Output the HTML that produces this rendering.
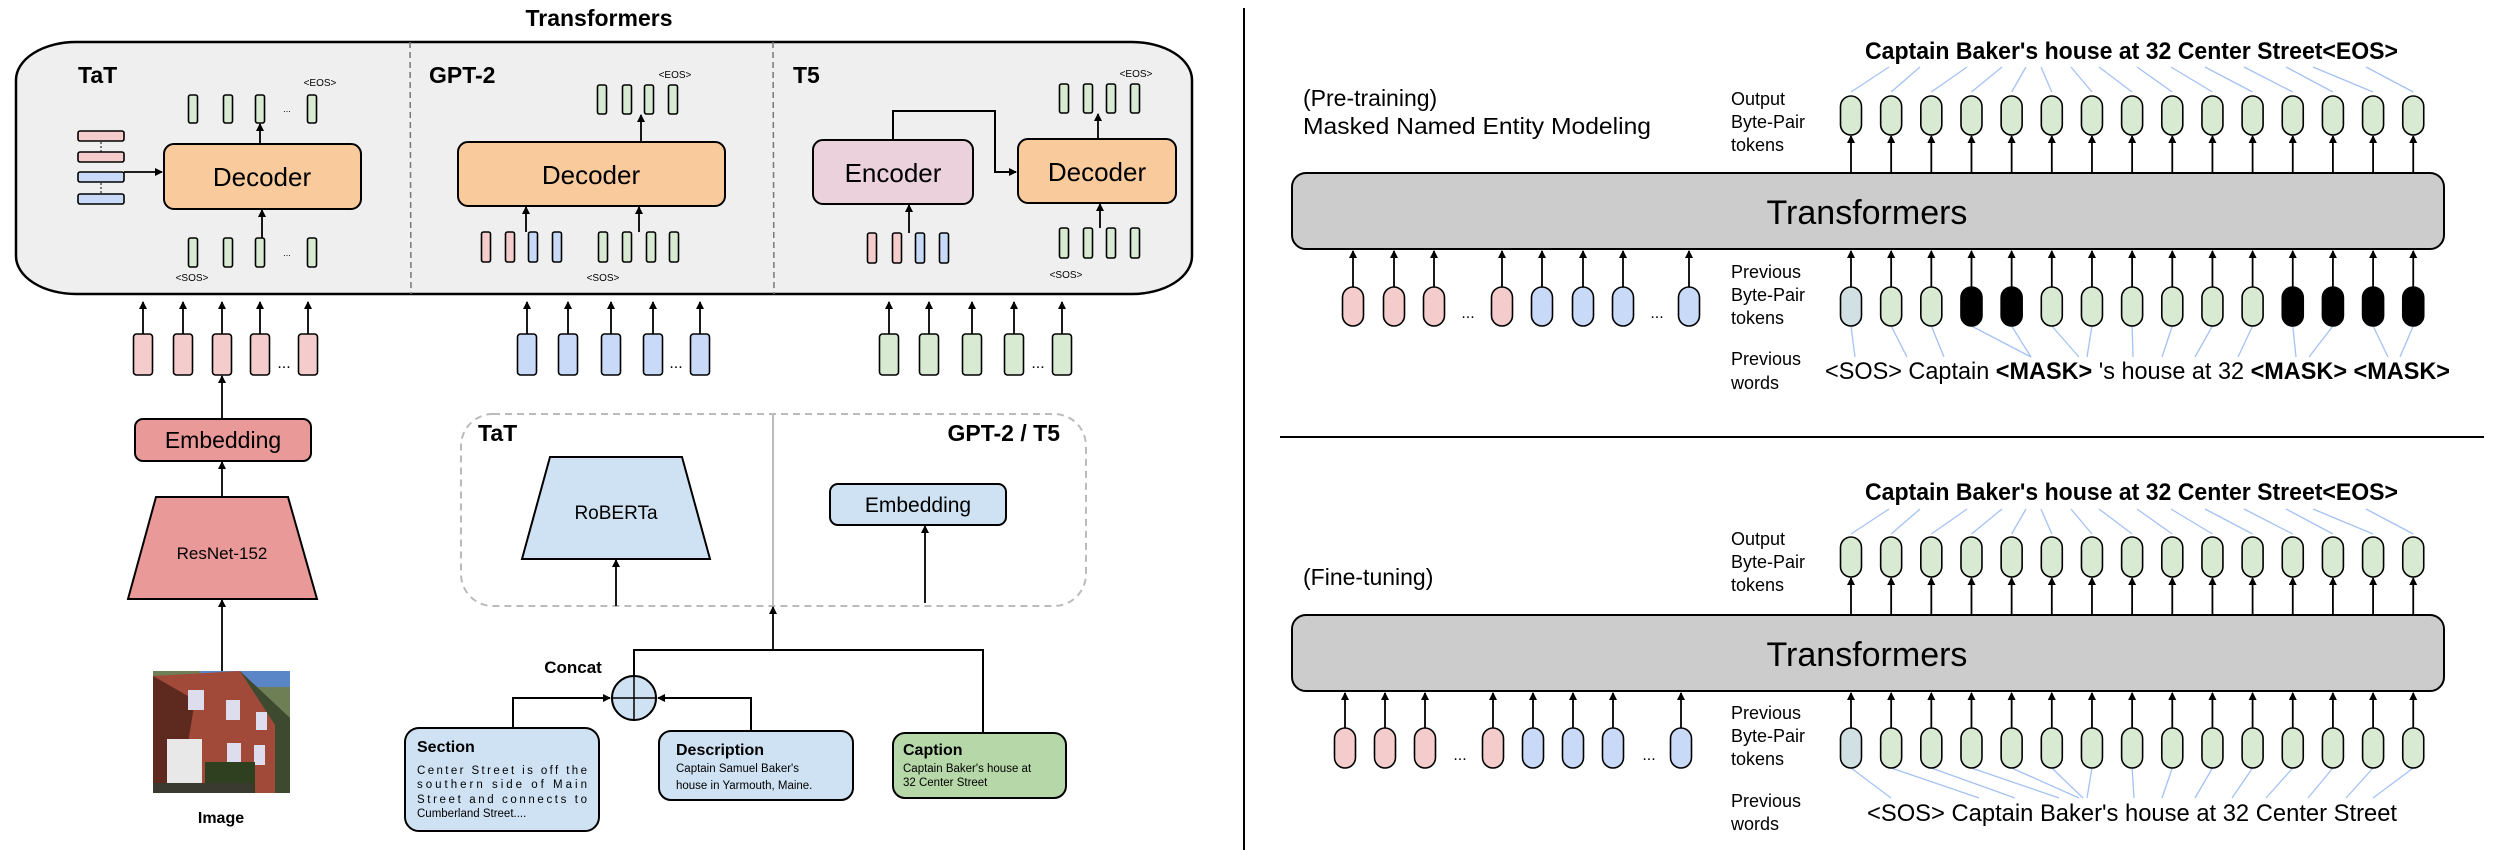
<!DOCTYPE html>
<html><head><meta charset="utf-8"><style>
html,body{margin:0;padding:0;background:#fff;}
svg{display:block;font-family:"Liberation Sans",sans-serif;}
</style></head><body>
<svg id="s" width="2500" height="850" viewBox="0 0 2500 850" xmlns="http://www.w3.org/2000/svg">
<defs>
<marker id="ah" markerWidth="8" markerHeight="8" refX="7" refY="4" orient="auto" markerUnits="userSpaceOnUse"><path d="M0,0 L8,4 L0,8 Z" fill="#000"/></marker>
</defs>
<rect width="2500" height="850" fill="#fff"/>
<!-- left top -->
<text x="599" y="26" font-size="23" font-weight="bold" text-anchor="middle">Transformers</text>
<rect x="16" y="42" width="1176" height="252" rx="60" ry="38" fill="#efefef" stroke="#000" stroke-width="2.5"/>
<line x1="410" y1="42" x2="411" y2="294" stroke="#777" stroke-width="1.5" stroke-dasharray="6 4"/>
<line x1="773" y1="42" x2="774" y2="294" stroke="#777" stroke-width="1.5" stroke-dasharray="6 4"/>
<text x="78" y="83" font-size="23" font-weight="bold">TaT</text>
<text x="429" y="83" font-size="23" font-weight="bold">GPT-2</text>
<text x="793" y="83" font-size="23" font-weight="bold">T5</text>
<rect x="164" y="144" width="197" height="65" rx="10" fill="#f9cb9c" stroke="#000" stroke-width="2"/>
<text x="262" y="186" font-size="26" text-anchor="middle">Decoder</text>
<rect x="458" y="142" width="267" height="64" rx="10" fill="#f9cb9c" stroke="#000" stroke-width="2"/>
<text x="591" y="184" font-size="26" text-anchor="middle">Decoder</text>
<rect x="813" y="140" width="160" height="64" rx="10" fill="#ead1dc" stroke="#000" stroke-width="2"/>
<text x="893" y="182" font-size="26" text-anchor="middle">Encoder</text>
<rect x="1018" y="139" width="158" height="64" rx="10" fill="#f9cb9c" stroke="#000" stroke-width="2"/>
<text x="1097" y="181" font-size="26" text-anchor="middle">Decoder</text>
<path d="M893 140 V111 H995 V172 H1016" fill="none" stroke="#000" stroke-width="2" marker-end="url(#ah)"/>
<text x="320" y="86" font-size="10" text-anchor="middle">&lt;EOS&gt;</text>
<text x="192" y="281" font-size="10" text-anchor="middle">&lt;SOS&gt;</text>
<text x="675" y="78" font-size="10" text-anchor="middle">&lt;EOS&gt;</text>
<text x="603" y="281" font-size="10" text-anchor="middle">&lt;SOS&gt;</text>
<text x="1136" y="77" font-size="10" text-anchor="middle">&lt;EOS&gt;</text>
<text x="1066" y="278" font-size="10" text-anchor="middle">&lt;SOS&gt;</text>
<text x="287" y="112" font-size="9" text-anchor="middle">...</text>
<text x="287" y="256" font-size="9" text-anchor="middle">...</text>
<text x="284" y="368" font-size="16" text-anchor="middle">...</text>
<text x="676" y="368" font-size="16" text-anchor="middle">...</text>
<text x="1038" y="368" font-size="16" text-anchor="middle">...</text>
<!-- left lower -->
<rect x="135" y="419" width="176" height="42" rx="8" fill="#ea9999" stroke="#000" stroke-width="2"/>
<text x="223" y="448" font-size="23" text-anchor="middle">Embedding</text>
<polygon points="156,497 288,497 317,599 128,599" fill="#ea9999" stroke="#000" stroke-width="2"/>
<text x="222" y="559" font-size="17" text-anchor="middle">ResNet-152</text>
<g>
<rect x="153" y="671" width="137" height="122" fill="#6f7f55"/>
<rect x="200" y="671" width="90" height="16" fill="#5a86c8"/>
<polygon points="153,676 240,671 290,720 290,793 153,793" fill="#a24a3a"/>
<polygon points="153,676 153,793 180,793 195,700" fill="#5e2a20"/>
<polygon points="240,671 290,718 290,793 275,793 275,725" fill="#3e4a30"/>
<rect x="188" y="690" width="16" height="20" fill="#dde"/>
<rect x="226" y="700" width="14" height="20" fill="#dde"/>
<rect x="256" y="712" width="11" height="18" fill="#dde"/>
<rect x="227" y="743" width="14" height="22" fill="#dde"/>
<rect x="254" y="745" width="11" height="20" fill="#dde"/>
<rect x="167" y="739" width="35" height="45" fill="#e8e8e8"/>
<rect x="205" y="762" width="50" height="31" fill="#2e4020"/>
<rect x="153" y="783" width="100" height="10" fill="#3a3a30"/>
</g>
<text x="221" y="823" font-size="16" font-weight="bold" text-anchor="middle">Image</text>
<rect x="461" y="414" width="625" height="192" rx="32" fill="none" stroke="#bbb" stroke-width="2" stroke-dasharray="7 5"/>
<line x1="773" y1="414" x2="773" y2="606" stroke="#bbb" stroke-width="2"/>
<text x="478" y="441" font-size="23" font-weight="bold">TaT</text>
<text x="1060" y="441" font-size="23" font-weight="bold" text-anchor="end">GPT-2 / T5</text>
<polygon points="550,457 682,457 710,559 522,559" fill="#cfe2f3" stroke="#000" stroke-width="2"/>
<text x="616" y="519" font-size="19" text-anchor="middle">RoBERTa</text>
<rect x="830" y="484" width="176" height="41" rx="8" fill="#cfe2f3" stroke="#000" stroke-width="2"/>
<text x="918" y="512" font-size="21" text-anchor="middle">Embedding</text>
<path d="M634 676 V650 H983 V733" fill="none" stroke="#000" stroke-width="2"/>
<circle cx="634" cy="698" r="22" fill="#cfe2f3" stroke="#000" stroke-width="2"/>
<line x1="612" y1="698" x2="656" y2="698" stroke="#000" stroke-width="1.5"/>
<line x1="634" y1="676" x2="634" y2="720" stroke="#000" stroke-width="1.5"/>
<text x="573" y="673" font-size="17" font-weight="bold" text-anchor="middle">Concat</text>
<path d="M513 728 V698 H610" fill="none" stroke="#000" stroke-width="2" marker-end="url(#ah)"/>
<path d="M751 731 V698 H658" fill="none" stroke="#000" stroke-width="2" marker-end="url(#ah)"/>
<rect x="405" y="728" width="194" height="103" rx="14" fill="#cfe2f3" stroke="#000" stroke-width="2"/>
<text x="417" y="752" font-size="16" font-weight="bold">Section</text>
<text font-size="11.5"><tspan x="417" y="774" textLength="170">Center Street is off the</tspan><tspan x="417" y="788" textLength="170">southern side of Main</tspan><tspan x="417" y="803" textLength="170">Street and connects to</tspan><tspan x="417" y="817">Cumberland Street....</tspan></text>
<rect x="659" y="731" width="194" height="69" rx="12" fill="#cfe2f3" stroke="#000" stroke-width="2"/>
<text x="676" y="755" font-size="16" font-weight="bold">Description</text>
<text font-size="11.5"><tspan x="676" y="772">Captain Samuel Baker's</tspan><tspan x="676" y="789">house in Yarmouth, Maine.</tspan></text>
<rect x="893" y="733" width="173" height="65" rx="12" fill="#b6d7a8" stroke="#000" stroke-width="2"/>
<text x="903" y="755" font-size="16" font-weight="bold">Caption</text>
<text font-size="11.5"><tspan x="903" y="772">Captain Baker's house at</tspan><tspan x="903" y="786">32 Center Street</tspan></text>
<!-- dividers -->
<line x1="1244" y1="8" x2="1244" y2="850" stroke="#000" stroke-width="2"/>
<line x1="1280" y1="437" x2="2484" y2="437" stroke="#000" stroke-width="2"/>
<!-- right top -->
<text x="1303" y="106" font-size="23">(Pre-training)</text>
<text x="1303" y="134" font-size="23" textLength="348" lengthAdjust="spacingAndGlyphs">Masked Named Entity Modeling</text>
<text x="1865" y="59" font-size="24" font-weight="bold" textLength="533" lengthAdjust="spacingAndGlyphs">Captain Baker's house at 32 Center Street&lt;EOS&gt;</text>
<text font-size="18"><tspan x="1731" y="105">Output</tspan><tspan x="1731" y="128">Byte-Pair</tspan><tspan x="1731" y="151">tokens</tspan></text>
<rect x="1292" y="173" width="1152" height="76" rx="14" fill="#cccccc" stroke="#000" stroke-width="2"/>
<text x="1867" y="224" font-size="34" text-anchor="middle">Transformers</text>
<text font-size="18"><tspan x="1731" y="278">Previous</tspan><tspan x="1731" y="301">Byte-Pair</tspan><tspan x="1731" y="324">tokens</tspan><tspan x="1731" y="365">Previous</tspan><tspan x="1731" y="389">words</tspan></text>
<text x="1825" y="379" font-size="24" textLength="625" lengthAdjust="spacingAndGlyphs">&lt;SOS&gt; Captain <tspan font-weight="bold">&lt;MASK&gt;</tspan> 's house at 32 <tspan font-weight="bold">&lt;MASK&gt;</tspan> <tspan font-weight="bold">&lt;MASK&gt;</tspan></text>
<text x="1468" y="318" font-size="16" text-anchor="middle">...</text>
<text x="1657" y="318" font-size="16" text-anchor="middle">...</text>
<!-- right bottom -->
<text x="1303" y="585" font-size="23">(Fine-tuning)</text>
<text x="1865" y="500" font-size="24" font-weight="bold" textLength="533" lengthAdjust="spacingAndGlyphs">Captain Baker's house at 32 Center Street&lt;EOS&gt;</text>
<text font-size="18"><tspan x="1731" y="545">Output</tspan><tspan x="1731" y="568">Byte-Pair</tspan><tspan x="1731" y="591">tokens</tspan></text>
<rect x="1292" y="615" width="1152" height="76" rx="14" fill="#cccccc" stroke="#000" stroke-width="2"/>
<text x="1867" y="666" font-size="34" text-anchor="middle">Transformers</text>
<text font-size="18"><tspan x="1731" y="719">Previous</tspan><tspan x="1731" y="742">Byte-Pair</tspan><tspan x="1731" y="765">tokens</tspan><tspan x="1731" y="807">Previous</tspan><tspan x="1731" y="830">words</tspan></text>
<text x="1867" y="821" font-size="24" textLength="530" lengthAdjust="spacingAndGlyphs">&lt;SOS&gt; Captain Baker's house at 32 Center Street</text>
<text x="1460" y="760" font-size="16" text-anchor="middle">...</text>
<text x="1649" y="760" font-size="16" text-anchor="middle">...</text>
<g id="dyn"></g>
</svg>
<script>
var NS="http://www.w3.org/2000/svg",g=document.getElementById("dyn");
function el(t,a){var e=document.createElementNS(NS,t);for(var k in a)e.setAttribute(k,a[k]);g.appendChild(e);return e;}
function arrow(x1,y1,x2,y2){el("line",{x1:x1,y1:y1,x2:x2,y2:y2,stroke:"#000","stroke-width":1.8,"marker-end":"url(#ah)"});}
function tok(cx,y1,y2,w,fill,rx){el("rect",{x:cx-w/2,y:y1,width:w,height:y2-y1,rx:rx,fill:fill,stroke:"#000","stroke-width":1.6});}
var P="#f4cccc",B="#c9daf8",G="#d9ead3",K="#000",S="#d0e0e3";
[193,228,260,312].forEach(function(x){tok(x,95,123,9,G,2);tok(x,238,267,9,G,2);});
[[136,P],[157,P],[177,B],[199,B]].forEach(function(a){el("rect",{x:78,y:a[0]-5,width:46,height:10,rx:2,fill:a[1],stroke:"#000","stroke-width":1.6});});
el("line",{x1:101,y1:142,x2:101,y2:152,stroke:"#000","stroke-dasharray":"2 2"});
el("line",{x1:101,y1:183,x2:101,y2:194,stroke:"#000","stroke-dasharray":"2 2"});
arrow(124,172,162,172);arrow(260,144,260,124);arrow(262,238,262,210);
[602,627,649,673].forEach(function(x){tok(x,85,114,9,G,2);});
[[486,P],[510,P],[533,B],[557,B],[603,G],[627,G],[651,G],[674,G]].forEach(function(a){tok(a[0],232,262,9,a[1],2);});
arrow(641,142,641,115);arrow(526,232,526,207);arrow(639,232,639,207);
[1064,1088,1111,1135].forEach(function(x){tok(x,84,113,9,G,2);tok(x,228,258,9,G,2);});
[[872,P],[897,P],[920,B],[944,B]].forEach(function(a){tok(a[0],233,263,9,a[1],2);});
arrow(1098,139,1098,114);arrow(1100,228,1100,204);arrow(909,233,909,205);
[[143,P],[183,P],[222,P],[260,P],[308,P],[527,B],[568,B],[611,B],[653,B],[700,B],[889,G],[929,G],[972,G],[1014,G],[1062,G]].forEach(function(a){tok(a[0],334,375,19,a[1],3);arrow(a[0],334,a[0],302);});
arrow(222,419,222,376);arrow(222,497,222,462);arrow(222,671,222,600);
arrow(616,606,616,560);arrow(925,603,925,526);arrow(773,650,773,607);
var cx=[];for(var i=0;i<15;i++)cx.push(1851+i*40.16);
var topX=[1889,1920,1967,2002,2026,2041,2071,2099,2137,2171,2205,2244,2286,2313,2366];
var preB=[1855,1907,1944,2031,2031,2079,2087,2133,2162,2195,2238,2296,2309,2388,2400];
var ftB=[1891,1979,2015,2059,2079,2083,2087,2134,2162,2195,2232,2266,2308,2346,2373];
var preCol=[S,G,G,K,K,G,G,G,G,G,G,K,K,K,K];
for(var i=0;i<15;i++){
 var x=cx[i];
 el("line",{x1:topX[i],y1:67,x2:x,y2:92,stroke:"#a4c2f4","stroke-width":1.3});
 el("line",{x1:topX[i],y1:509,x2:x,y2:534,stroke:"#a4c2f4","stroke-width":1.3});
 el("line",{x1:x,y1:326,x2:preB[i],y2:357,stroke:"#a4c2f4","stroke-width":1.3});
 el("line",{x1:x,y1:768,x2:ftB[i],y2:798,stroke:"#a4c2f4","stroke-width":1.3});
 tok(x,96,135,21,G,10.5);arrow(x,173,x,136);
 tok(x,287,326,21,preCol[i],10.5);arrow(x,287,x,251);
 tok(x,537,577,21,G,10.5);arrow(x,615,x,578);
 tok(x,728,768,21,i==0?S:G,10.5);arrow(x,728,x,693);
}
[[1353,P],[1394,P],[1434,P],[1502,P],[1542,B],[1583,B],[1623,B],[1689,B]].forEach(function(a){tok(a[0],287,326,21,a[1],10.5);arrow(a[0],287,a[0],251);});
[[1345,P],[1385,P],[1425,P],[1493,P],[1533,B],[1573,B],[1613,B],[1681,B]].forEach(function(a){tok(a[0],728,768,21,a[1],10.5);arrow(a[0],728,a[0],693);});
</script>
</body></html>
